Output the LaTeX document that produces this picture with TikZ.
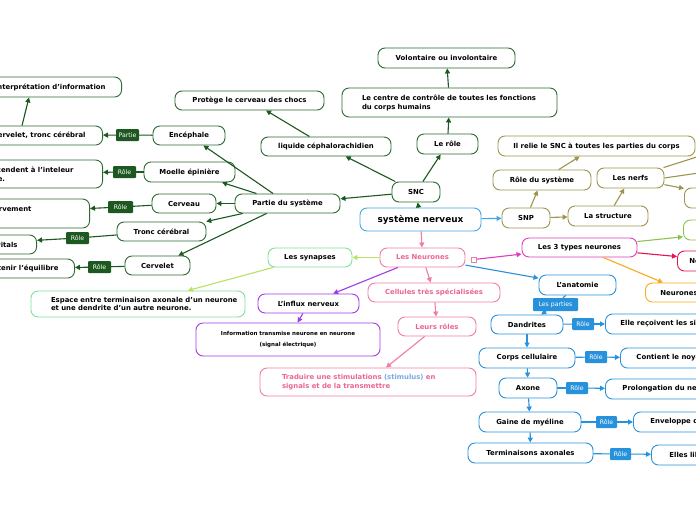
\documentclass[tikz,border=0pt]{standalone}
\usepackage{fontspec}
\setmainfont{DejaVu Sans}
\usetikzlibrary{arrows.meta}
\definecolor{dg}{RGB}{45,105,50}
\definecolor{dgl}{RGB}{28,88,32}
\definecolor{sysblue}{RGB}{70,165,230}
\definecolor{anblue}{RGB}{40,145,220}
\definecolor{olive}{RGB}{158,148,80}
\definecolor{pinkb}{RGB}{240,125,165}
\definecolor{pinkt}{RGB}{235,100,150}
\definecolor{magen}{RGB}{225,60,185}
\definecolor{crim}{RGB}{228,20,80}
\definecolor{orng}{RGB}{250,170,30}
\definecolor{lgreen}{RGB}{140,195,80}
\definecolor{syng}{RGB}{125,225,155}
\definecolor{ygreen}{RGB}{185,225,100}
\definecolor{purp}{RGB}{160,60,230}
\definecolor{stimb}{RGB}{120,170,220}
\begin{document}
\begin{tikzpicture}[x=1pt,y=-1pt,
  base/.style={rounded corners=7pt, draw, fill=white, line width=0.9pt, inner sep=0pt,
    font=\fontsize{6.9}{9}\selectfont\bfseries, text=black},
  sz/.style n args={2}{minimum width=#1pt, minimum height=#2pt},
  gb/.style={base, draw=dg},
  bb/.style={base, draw=anblue},
  ob/.style={base, draw=olive},
  pb/.style={base, draw=pinkb, text=pinkt},
  lab/.style={fill=#1, text=white, font=\fontsize{6.2}{7}\selectfont, inner sep=0pt,
    rounded corners=1pt, minimum height=12pt},
  tip/.style={-{Triangle[length=5pt,width=5pt]}},
  ga/.style={draw=dgl, line width=1.1pt, tip},
  gl/.style={draw=dgl, line width=1.1pt},
  ba/.style={draw=anblue, line width=1.1pt, tip},
  bl/.style={draw=anblue, line width=1.1pt},
  oa/.style={draw=olive, line width=1.1pt, tip},
  ol/.style={draw=olive, line width=1.1pt},
]
\useasboundingbox (0,0) rectangle (696,520);
\clip (0,0) rectangle (696,520);
\fill[white] (0,0) rectangle (696,520);

% ---------- dark green (SNC) ----------
\node[gb, anchor=east, inner xsep=16pt, minimum height=20pt] (interp) at (122,87) {Interprétation d'information};
\node[gb, anchor=east, inner xsep=17pt, minimum height=19pt] (cerv) at (103,135.5) {Cerveau, cervelet, tronc cérébral};
\node[lab=dgl, minimum width=23pt] (p1) at (127.5,135) {Partie};
\node[gb, sz={72}{19}] (enc) at (189,135.5) {Encéphale};
\node[gb, anchor=east, align=left, inner xsep=29pt, minimum height=28pt] (desc) at (103,174)
  {Les messages montent et descendent à l'inteleur\\de colonne vertébrale humaine.};
\node[lab=dgl, minimum width=23pt] (r1) at (124.5,172) {Rôle};
\node[gb, sz={91}{20}] (moelle) at (189.5,172) {Moelle épinière};
\node[gb, anchor=east, align=left, inner xsep=10pt, minimum height=29pt] (pense) at (90,213.5)
  {Contrôle la pensée et l'observement\rule{48pt}{0pt}\\du corps.};
\node[lab=dgl, minimum width=25pt] (r2) at (120.5,207) {Rôle};
\node[gb, sz={64}{19}] (cerveau) at (184,203.5) {Cerveau};
\node[gb, sz={105}{19}] (partie) at (287.5,203.5) {Partie du système};
\node[gb, anchor=east, inner xsep=19pt, minimum height=19pt] (vital) at (37,244.5) {Contrôle les fonctions vitals};
\node[lab=dgl, minimum width=23pt] (r3) at (77.5,238) {Rôle};
\node[gb, sz={89}{19}] (tronc) at (161.5,231.5) {Tronc cérébral};
\node[gb, anchor=east, inner xsep=16pt, minimum height=19pt] (equil) at (75,268.5) {Maintenir l'équilibre};
\node[lab=dgl, minimum width=23pt] (r4) at (99.5,267) {Rôle};
\node[gb, sz={65}{19}] (cervelet) at (157.5,265.5) {Cervelet};
\node[gb, sz={149}{19}] (protege) at (249.5,100.5) {Protège le cerveau des chocs};
\node[gb, sz={130}{19}] (liquide) at (326,146.5) {liquide céphalorachidien};
\node[gb, sz={137}{20}] (volont) at (446.5,58) {Volontaire ou involontaire};
\node[gb, minimum height=29pt, text width=175pt, inner xsep=20pt, align=left] (centre) at (449.5,102.5) {\mbox{Le centre de contrôle de toutes les fonctions}\\du corps humains};
\node[gb, sz={61}{20}] (lerole) at (447.5,144) {Le rôle};
\node[gb, sz={48}{20}] (snc) at (416,192) {SNC};
\node[base, draw=sysblue, sz={121}{23}, font=\fontsize{8.9}{10}\selectfont\bfseries] (sys) at (420.5,219.5) {système nerveux};

% ---------- olive (SNP) ----------
\node[ob, sz={197}{20}] (relie) at (596.5,146) {Il relie le SNC à toutes les parties du corps};
\node[ob, sz={98}{20}] (rdsys) at (542,180) {Rôle du système};
\node[ob, sz={67}{20}] (nerfs) at (630.5,178) {Les nerfs};
\node[ob, anchor=west, inner xsep=20pt, minimum height=20pt] (olbox) at (684,198) {Nerfs crâniens};
\node[ob, sz={48}{20}] (snp) at (526,218) {SNP};
\node[ob, sz={80}{20}] (struct) at (608,216) {La structure};
\coordinate (nerfA) at (760,137);
\coordinate (nerfB) at (760,164);

% ---------- neurones ----------
\node[base, draw=lgreen, anchor=west, inner xsep=20pt, minimum height=20pt] (lgbox) at (683,230) {Neurones d'association};
\node[base, draw=crim, anchor=west, inner xsep=12pt, minimum height=20pt] (crbox) at (677,261) {Neurones moteurs};
\node[base, draw=orng, anchor=west, inner xsep=15pt, minimum height=19pt] (orbox) at (645,292.5) {Neurones sensitifs};
\node[base, draw=magen, sz={115}{19}] (types) at (579.5,247.5) {Les 3 types neurones};
\node[pb, sz={85}{19}] (neur) at (422.5,257.5) {Les Neurones};
\node[draw=pinkb, line width=0.6pt, minimum size=5pt, inner sep=0pt] (nicon) at (474,259.5) {};
\node[base, draw=syng, sz={84}{19}] (syn) at (310,257.5) {Les synapses};
\node[base, draw=syng, minimum height=26pt, text width=174pt, inner xsep=20pt, align=left, font=\fontsize{6.9}{8.5}\selectfont\bfseries] (espace) at (138,304)
  {\mbox{Espace entre terminaison axonale d'un neurone}\\\mbox{et une dendrite d'un autre neurone.}};
\node[base, draw=purp, sz={101}{19}] (influx) at (308.5,303.5) {L'influx nerveux};
\node[base, draw=purp, sz={184}{33}, align=center, font=\fontsize{5.5}{11}\selectfont\bfseries] (info) at (288,339.5)
  {Information transmise neurone en neurone\\(signal électrique)};
\node[pb, sz={132}{19}] (cell) at (434,292.5) {Cellules très spécialisées};
\node[pb, sz={78}{19}] (leurs) at (437,326.5) {Leurs rôles};
\node[pb, minimum height=28pt, text width=172pt, inner xsep=22pt, align=left, font=\fontsize{6.9}{8.7}\selectfont\bfseries] (trad) at (368,382)
  {\mbox{Traduire une stimulations {\color{stimb}(stimulus)} en}\\\mbox{signals et de la transmettre}};

% ---------- anatomie ----------
\node[bb, sz={77}{20}] (anat) at (577.5,285) {L'anatomie};
\node[lab=anblue, minimum width=45pt, minimum height=13pt] (parts) at (555.5,304.5) {Les parties};
\node[bb, sz={72}{19}] (dand) at (527,324.5) {Dandrites};
\node[lab=anblue, minimum width=22pt] (rd) at (583,324) {Rôle};
\node[bb, anchor=west, inner xsep=15pt, minimum height=20pt] (dandr) at (605,324) {Elle reçoivent les signaux};
\node[bb, sz={96}{20}] (corps) at (527,358) {Corps cellulaire};
\node[lab=anblue, minimum width=22pt] (rc) at (596,357) {Rôle};
\node[bb, anchor=west, inner xsep=16pt, minimum height=20pt] (corpsr) at (620,358) {Contient le noyau};
\node[bb, sz={58}{20}] (axone) at (528,388) {Axone};
\node[lab=anblue, minimum width=22pt] (ra) at (577,388) {Rôle};
\node[bb, anchor=west, inner xsep=17pt, minimum height=20pt] (axoner) at (605,389) {Prolongation du neurone};
\node[bb, sz={102}{20}] (gaine) at (530,422) {Gaine de myéline};
\node[lab=anblue, minimum width=21pt] (rg) at (606.5,422) {Rôle};
\node[bb, anchor=west, inner xsep=17pt, minimum height=20pt] (gainer) at (633,422) {Enveloppe d'axone};
\node[bb, sz={125}{20}] (term) at (530.5,453) {Terminaisons axonales};
\node[lab=anblue, minimum width=21pt] (rt) at (620.5,454) {Rôle};
\node[bb, anchor=west, inner xsep=18pt, minimum height=20pt] (termr) at (651,455) {Elles libèrent les neurotransmetteurs};

% ---------- connectors: SNC ----------
\draw[ga] (sys) -- (snc);
\draw[ga] (snc) -- (partie);
\draw[ga] (snc) -- (liquide);
\draw[ga] (snc) -- (lerole);
\draw[ga] (lerole) -- (centre);
\draw[ga] (centre) -- (volont);
\draw[ga] (liquide) -- (protege);
\draw[ga] (partie) -- (enc);
\draw[ga] (partie) -- (moelle);
\draw[ga] (partie) -- (cerveau);
\draw[ga] (partie) -- (tronc);
\draw[ga] (partie) -- (cervelet);
\draw[gl] (enc) -- (p1);  \draw[ga] (p1) -- (cerv);
\draw[gl] (moelle) -- (r1); \draw[ga] (r1) -- (desc);
\draw[gl] (cerveau) -- (r2); \draw[ga] (r2) -- (pense);
\draw[gl] (tronc) -- (r3); \draw[ga] (r3) -- (vital);
\draw[gl] (cervelet) -- (r4); \draw[ga] (r4) -- (equil);
\draw[ga] ([xshift=-81pt]cerv.north east) -- ([xshift=-93pt]interp.south east);

% ---------- connectors: SNP ----------
\draw[draw=sysblue, line width=1.1pt, tip] (sys) -- (snp);
\draw[oa] (snp) -- (rdsys);
\draw[oa] (rdsys) -- (relie);
\draw[oa] (snp) -- (struct);
\draw[oa] (struct) -- (nerfs);
\draw[oa] (nerfs) -- (olbox);
\draw[ol] (nerfs) -- (nerfA);
\draw[ol] (nerfs.east) -- (nerfB);

% ---------- connectors: neurones ----------
\draw[draw=pinkb, line width=1.1pt, tip] (sys) -- (neur);
\draw[draw=pinkb, line width=1.1pt, tip] (neur) -- (cell);
\draw[draw=pinkb, line width=1.1pt, tip] (cell) -- (leurs);
\draw[draw=pinkb, line width=1.1pt, tip] (leurs) -- (trad);
\draw[draw=magen, line width=1.1pt, tip] (nicon) -- (types);
\draw[draw=lgreen, line width=1.1pt, tip] (types) -- (lgbox);
\draw[draw=crim, line width=1.1pt, tip] (types) -- (crbox);
\draw[draw=orng, line width=1.1pt, tip] (types) -- ([xshift=18pt]orbox.north west);
\draw[draw=ygreen, line width=1.1pt, tip] (neur) -- (syn);
\draw[draw=ygreen, line width=1.1pt, tip] (syn) -- (espace);
\draw[draw=purp, line width=1.1pt, tip] (neur) -- (influx);
\draw[draw=purp, line width=1.1pt, tip] (influx) -- (info);
\draw[ba] (neur) -- (anat);

% ---------- connectors: anatomie ----------
\draw[bl] (anat) -- (parts); \draw[ba] (parts) -- (dand);
\draw[ba] (dand) -- (corps);
\draw[ba] (corps) -- (axone);
\draw[ba] (axone) -- (gaine);
\draw[ba] (gaine) -- (term);
\draw[bl] (dand) -- (rd); \draw[ba] (rd) -- (dandr);
\draw[bl] (corps) -- (rc); \draw[ba] (rc) -- (corpsr);
\draw[bl] (axone) -- (ra); \draw[ba] (ra) -- (axoner);
\draw[bl] (gaine) -- (rg); \draw[ba] (rg) -- (gainer);
\draw[bl] (term) -- (rt); \draw[ba] (rt) -- (termr);
\end{tikzpicture}
\end{document}
